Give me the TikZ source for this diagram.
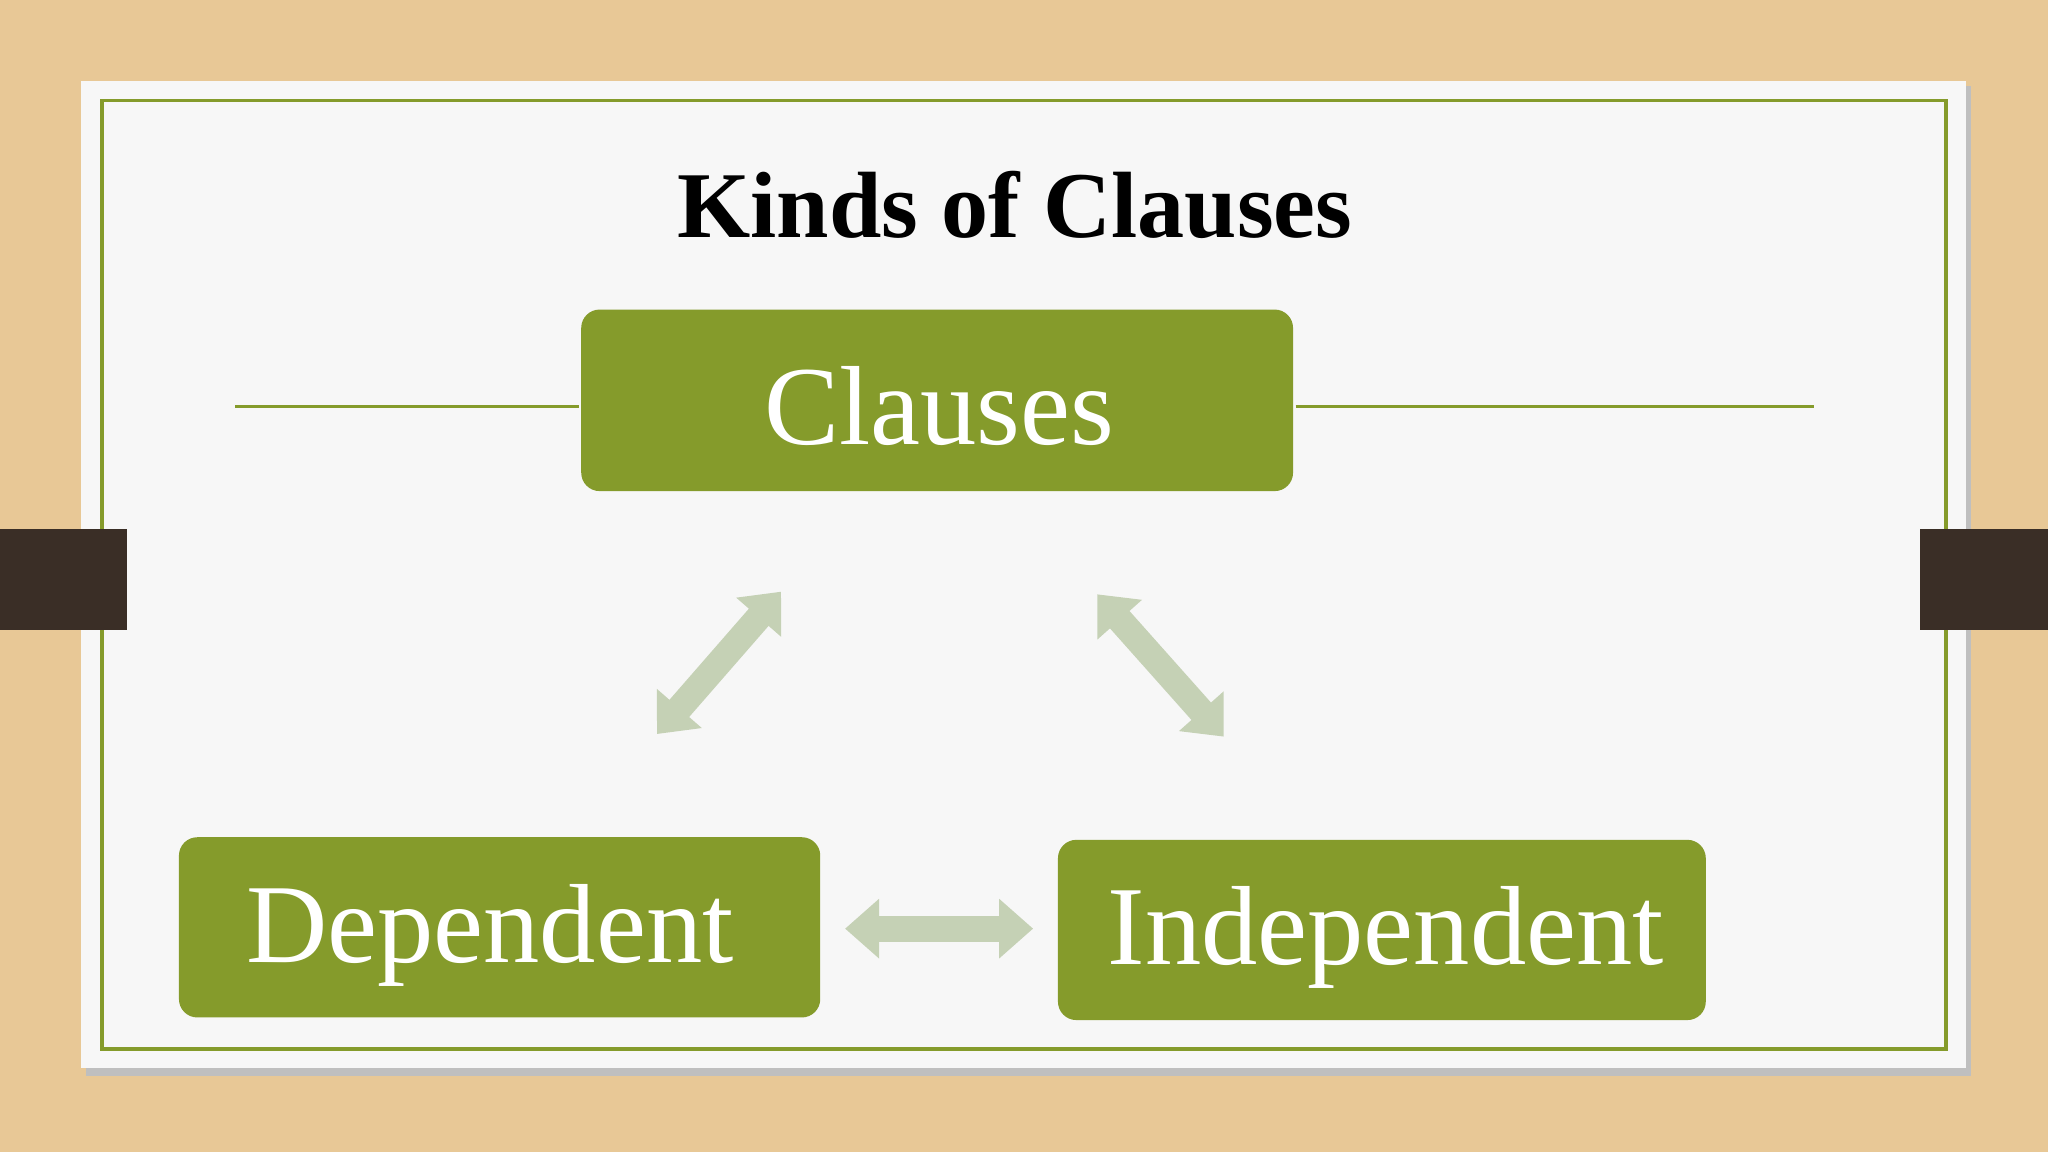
\documentclass[tikz,border=0pt]{standalone}
\usepackage{fontspec}
\setmainfont{Liberation Serif}
\usetikzlibrary{arrows.meta}
\definecolor{wood}{RGB}{232,200,150}
\definecolor{slide}{RGB}{247,247,247}
\definecolor{olive}{RGB}{133,155,43}
\definecolor{sage}{RGB}{197,209,181}
\definecolor{tab}{RGB}{58,46,38}
\tikzset{
  gbox/.style={fill=olive,rounded corners=4pt},
  btext/.style={text=white,font=\fontsize{24.5}{29}\selectfont},
  dbl/.style={sage,line width=2mm,{Triangle[length=2.6mm,width=4.4mm]}-{Triangle[length=2.6mm,width=4.4mm]}},
  thinline/.style={olive,line width=0.6pt}
}
\begin{document}
\begin{tikzpicture}[x=0.01cm,y=-0.01cm]
\fill[wood] (0,0) rectangle (1568,882);
\fill[black!25] (66,66) rectangle (1509,824);
\fill[slide] (62,62) rectangle (1505,818);
\draw[thinline,line width=0.8pt] (78,77) rectangle (1490,803);
\fill[tab] (0,405) rectangle (97,482);
\fill[tab] (1470,405) rectangle (1568,482);
\node[font=\bfseries\fontsize{20.5}{24}\selectfont] (title) at (777,157) {Kinds of Clauses};
\path[gbox] (445,237) rectangle (990,376);
\node[btext] (cl) at (719,311) {Clauses};
\coordinate (clW) at (443,311); \coordinate (clE) at (992,311);
\coordinate (lL) at (180,311); \coordinate (lR) at (1389,311);
\draw[thinline] (lL) -- (clW);
\draw[thinline] (clE) -- (lR);
\path[gbox] (137,641) rectangle (628,779);
\node[btext] (dep) at (375,716) {Dependent};
\path[gbox] (810,643) rectangle (1306,781);
\node[btext] (ind) at (1061,718) {Independent};
\coordinate (a1) at (503,562); \coordinate (a2) at (598,453);
\coordinate (b1) at (840,455); \coordinate (b2) at (937,564);
\coordinate (c1) at (647,711); \coordinate (c2) at (791,711);
\draw[dbl] (a1) -- (a2);
\draw[dbl] (b1) -- (b2);
\draw[dbl] (c1) -- (c2);
\end{tikzpicture}
\end{document}
